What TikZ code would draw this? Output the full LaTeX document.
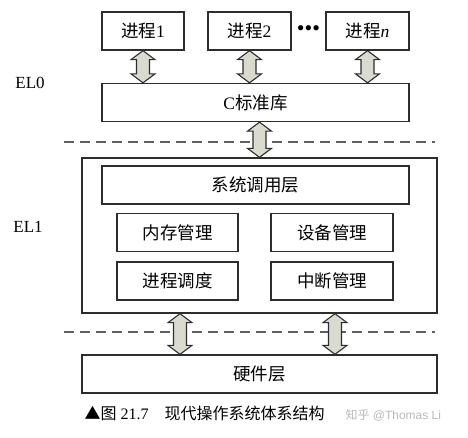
\documentclass[tikz,border=0pt]{standalone}
\usepackage{fontspec}
\setmainfont{Liberation Serif}
\setsansfont{Liberation Sans}
\newfontfamily\cjk{Noto Sans CJK SC}
\usetikzlibrary{
    positioning,
    calc
}
\definecolor{boxline}{RGB}{45,45,45}
\definecolor{arrfill}{RGB}{218,219,206}
\definecolor{sepgray}{RGB}{95,95,95}
\tikzset{
  box/.style    = {draw=boxline, line width=1.3pt, fill=white,
                   minimum height=38pt, inner sep=0pt,
                   font=\fontsize{17.5}{20}\selectfont},
  fatarr/.style = {draw=boxline, line width=1.1pt, fill=arrfill,
                   line join=miter},
  sep/.style    = {draw=sepgray, line width=1.6pt, dash pattern=on 10pt off 6pt},
  lvl/.style    = {font=\fontsize{17}{20}\selectfont}
}
% double arrow between two anchors (same x)
\newcommand{\fatarrow}[2]{%
  \path[fatarr] let \p1=(#1), \p2=(#2) in
    (\x1,\y1) -- (\x1+12pt,\y1-9pt) -- (\x1+6.5pt,\y1-9pt)
    -- (\x1+6.5pt,\y2+9pt) -- (\x1+12pt,\y2+9pt) -- (\x1,\y2)
    -- (\x1-12pt,\y2+9pt) -- (\x1-6.5pt,\y2+9pt)
    -- (\x1-6.5pt,\y1-9pt) -- (\x1-12pt,\y1-9pt) -- cycle;}

\begin{document}
\begin{tikzpicture}[x=1pt, y=-1pt]
    \useasboundingbox (0,0) rectangle (468,438);
    % separators
    \draw[sep] (64,142) -- (435,142);
    \draw[sep] (64,332) -- (435,332);
    % EL0
    \node[box, minimum width=82pt](p1) at (143,31)   {{\cjk 进程}1};
    \node[box, minimum width=83pt](p2) at (249.5,31) {{\cjk 进程}2};
    \node[box, minimum width=83pt](pn) at (367.5,31) {{\cjk 进程}\textit{n}};
    \node[inner sep=0pt, font=\fontsize{22}{22}\selectfont](dots) at (308.5,31) {\textbullet\textbullet\textbullet};
    \node[box, minimum width=307pt](clib) at (255.5,102.5) {C{\cjk 标准库}};
    \node[lvl](el0) at (30,83) {EL0};
    % EL1
    \node[box, minimum width=355pt, minimum height=155pt](el1) at (259.5,235.5) {};
    \node[box, minimum width=307pt](sys) at (255.5,185) {\cjk 系统调用层};
    \node[box, minimum width=121pt](mem)   at (177.5,232.5) {\cjk 内存管理};
    \node[box, minimum width=122pt](dev)   at (332,232.5)   {\cjk 设备管理};
    \node[box, minimum width=121pt](sched) at (177.5,281)   {\cjk 进程调度};
    \node[box, minimum width=122pt](irq)   at (332,281)     {\cjk 中断管理};
    \node[lvl](el1lbl) at (28,227) {EL1};
    % hardware
    \node[box, minimum width=355pt](hw) at (259.5,374) {\cjk 硬件层};
    \coordinate (xa) at (180,0);
    \coordinate (xb) at (335,0);
    % arrows
    \fatarrow{p1.south}{p1.south |- clib.north}
    \fatarrow{p2.south}{p2.south |- clib.north}
    \fatarrow{pn.south}{pn.south |- clib.north}
    \fatarrow{clib.south -| el1.north}{el1.north}
    \fatarrow{el1.south -| xa}{hw.north -| xa}
    \fatarrow{el1.south -| xb}{hw.north -| xb}
    % caption
    \node[anchor=west, font=\fontsize{16}{18}\selectfont](cap) at (81,413)
      {{\cjk ▲图} 21.7\hspace{1em}{\cjk 现代操作系统体系结构}};
    \node[anchor=west, text=black!28, font=\sffamily\fontsize{12}{14}\selectfont](wm) at (342,415)
      {{\cjk 知乎} @Thomas Li};
\end{tikzpicture}
\end{document}
